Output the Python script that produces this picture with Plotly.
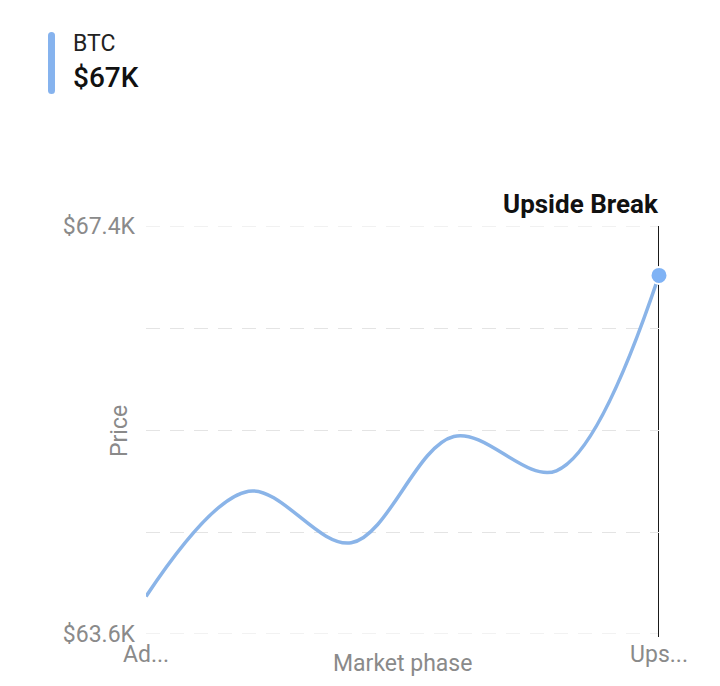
import plotly.graph_objects as go

phases = ["Adjustment", "Base", "Retest", "Rally", "Pullback", "Upside Break"]
prices = [63.95, 64.93, 64.45, 65.44, 65.12, 66.94]  # $K
y_grid = [63.6, 64.55, 65.5, 66.45, 67.4]
y_grid_text = ["$63.6K", "", "", "", "$67.4K"]
x_tick_text = ["Ad...", "Ups..."]

LINE = "#8ab4e8"
GRID = "#e4e4e4"
DASH = "14px,10px"
OFF = 8  # page body margin
W, H = 720 - OFF, 686 - OFF
PL, PR, PT, PB = 146, 659, 226, 634   # plot area in reference pixels
L, T = PL - OFF, PT - OFF
R = W - (PR - OFF)
B = H - (PB - OFF)
pw, ph = PR - PL, PB - PT

def px(x):
    return (x - PL) / pw

def py(y):
    return (PB - y) / ph

fig = go.Figure()
# edge gridlines (plotly hides those on the plot border)
for gy in (y_grid[0], y_grid[-1]):
    fig.add_shape(type="line", xref="paper", yref="y", x0=0, x1=1, y0=gy, y1=gy,
                  line=dict(color=GRID, width=1, dash=DASH), layer="below")

fig.add_trace(go.Scatter(
    x=phases, y=prices, mode="lines",
    line=dict(color=LINE, width=3.5, shape="spline", smoothing=1.0),
    hoverinfo="skip", showlegend=False,
))
fig.add_trace(go.Scatter(
    x=[phases[-1]], y=[prices[-1]], mode="markers",
    marker=dict(color="#80b3f5", size=17, line=dict(color="white", width=2)),
    hoverinfo="skip", showlegend=False, cliponaxis=False,
))

# crosshair
fig.add_shape(type="line", xref="x", yref="paper", x0=phases[-1], x1=phases[-1],
              y0=py(637), y1=1, line=dict(color="#1a1a1a", width=2), layer="below")

# header bar (rounded)
x0, x1 = px(48), px(55)
ya, yb = py(94), py(32)
r = 3.5 / ph
rx = 3.5 / pw
fig.add_shape(type="path", xref="paper", yref="paper",
              path=(f"M {x0},{ya + r} L {x0},{yb - r} Q {x0},{yb} {x0 + rx},{yb} "
                    f"Q {x1},{yb} {x1},{yb - r} L {x1},{ya + r} Q {x1},{ya} {x0 + rx},{ya} "
                    f"Q {x0},{ya} {x0},{ya + r} Z"),
              fillcolor="#86b3ee", line=dict(width=0))

fig.add_annotation(xref="paper", yref="paper", x=px(71), y=py(43), text="BTC",
                   showarrow=False, xanchor="left", yanchor="middle",
                   font=dict(family="Roboto", size=23, color="#222"))
fig.add_annotation(xref="paper", yref="paper", x=px(71), y=py(78), text="$67K",
                   showarrow=False, xanchor="left", yanchor="middle",
                   font=dict(family="Roboto", size=28, color="#111", weight=500))
fig.add_annotation(xref="paper", yref="paper", x=px(661), y=py(204), text="<b>Upside Break</b>",
                   showarrow=False, xanchor="right", yanchor="middle",
                   font=dict(family="Roboto", size=26, color="#111"))
fig.add_annotation(xref="paper", yref="paper", x=0.5, y=py(663), text="Market phase",
                   showarrow=False, xanchor="center", yanchor="middle",
                   font=dict(family="Roboto", size=23, color="#8a8a8a"))
fig.add_annotation(xref="paper", yref="paper", x=px(119), y=py(431), text="Price",
                   showarrow=False, xanchor="center", yanchor="middle", textangle=-90,
                   font=dict(family="Roboto", size=23, color="#8a8a8a"))

fig.update_layout(
    width=W, height=H,
    margin=dict(l=L, r=R, t=T, b=B, pad=0),
    paper_bgcolor="white", plot_bgcolor="white",
    font=dict(family="Roboto"),
    showlegend=False,
    xaxis=dict(
        type="category", range=[0, len(phases) - 1],
        tickvals=[phases[0], phases[-1]], ticktext=x_tick_text,
        showgrid=False, zeroline=False, showline=False, ticks="",
        tickfont=dict(family="Roboto", size=23, color="#8a8a8a"),
        ticklabelstandoff=4,
    ),
    yaxis=dict(
        range=[63.6, 67.4], tickvals=y_grid, ticktext=y_grid_text,
        showgrid=True, gridcolor=GRID, gridwidth=1, griddash=DASH,
        zeroline=False, showline=False, ticks="",
        tickfont=dict(family="Roboto", size=23, color="#8a8a8a"),
        ticklabelstandoff=10,
    ),
)

fig.write_html("out.html")
